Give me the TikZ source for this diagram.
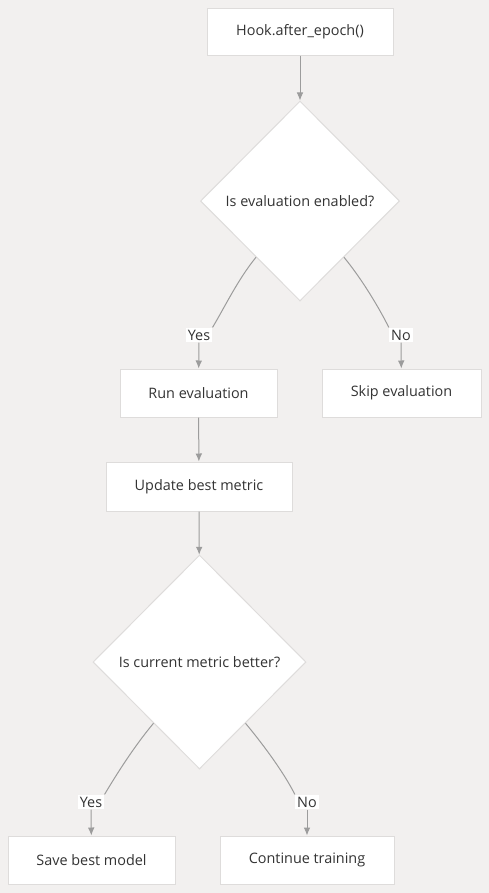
\documentclass[tikz,border=0pt]{standalone}
\usepackage{fontspec}
\setmainfont{Open Sans}
\usetikzlibrary{positioning,arrows.meta,calc,shapes.geometric}
\definecolor{canvas}{HTML}{F2F0EF}
\definecolor{frame}{HTML}{DEDCDB}
\definecolor{wire}{HTML}{9C9C9C}
\definecolor{ink}{HTML}{333333}

\begin{document}
\begin{tikzpicture}[x=.75pt,y=-.75pt,font=\fontsize{10.8}{12}\selectfont,
  box/.style={draw=frame,fill=white,text=ink,line width=.75pt,minimum height=36pt},
  choice/.style={diamond,draw=frame,fill=white,text=ink,line width=.75pt,inner sep=0pt,aspect=1},
  tag/.style={fill=white,text=ink,inner sep=1.6pt},
  wireline/.style={draw=wire,line width=.75pt},
  arrow/.style={wireline,-{Latex[length=6pt,width=5pt]}}]
  \fill[canvas] (0,0) rectangle (489,893);
  \useasboundingbox (0,0) rectangle (489,893);
  \node[box,minimum width=139.5pt,minimum height=35.25pt] (hook) at (300,31.5){Hook.after\_epoch()};
  \node[choice,minimum width=149.25pt,minimum height=150pt] (enabled) at (300,201){Is evaluation enabled?};
  \node[box,minimum width=117.75pt] (run) at (198.5,393){Run evaluation};
  \node[box,minimum width=119.25pt] (skip) at (401.5,393){Skip evaluation};
  \node[box,minimum width=139.5pt,minimum height=36.75pt] (update) at (199,486.5){Update best metric};
  \node[choice,minimum width=159.75pt,minimum height=160.5pt] (better) at (199.5,662){Is current metric better?};
  \node[box,minimum width=125.25pt] (save) at (91.5,860){Save best model};
  \node[box,minimum width=130.5pt] (cont) at (307,860){Continue training};
  % branch labels
  \node[tag] (yes1) at (199,335){Yes};
  \node[tag] (no1) at (401,335){No};
  \node[tag] (yes2) at (91,802){Yes};
  \node[tag] (no2) at (307,802){No};
  % connectors
  \draw[arrow] (hook)--(enabled);
  \draw[wireline] ($(enabled.west)!.56!(enabled.south)$) .. controls +(-18,22) and +(12,-20) .. (yes1.north east);
  \draw[arrow] (yes1)--(run);
  \draw[wireline] ($(enabled.east)!.56!(enabled.south)$) .. controls +(18,22) and +(-10,-20) .. (no1.north west);
  \draw[arrow] (no1)--(skip);
  \draw[arrow] (run)--(update);
  \draw[arrow] (update)--(better);
  \draw[wireline] ($(better.west)!.57!(better.south)$) .. controls +(-20,24) and +(12,-20) .. (yes2.north east);
  \draw[arrow] (yes2)--(save);
  \draw[wireline] ($(better.east)!.57!(better.south)$) .. controls +(20,24) and +(-10,-20) .. (no2.north west);
  \draw[arrow] (no2)--(cont);
\end{tikzpicture}
\end{document}
